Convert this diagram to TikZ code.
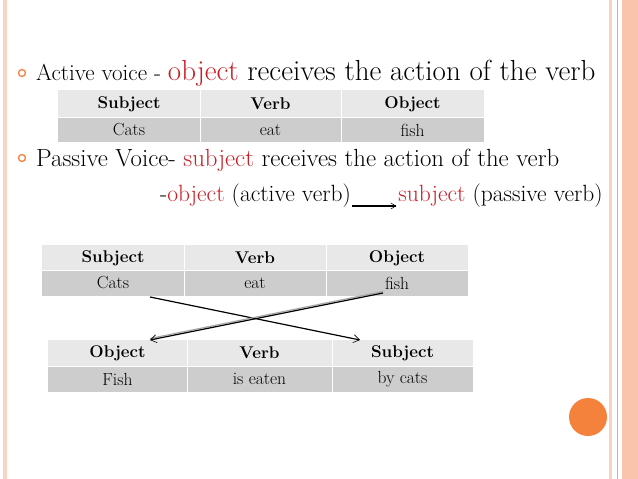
\documentclass[tikz,border=0pt]{standalone}
\usetikzlibrary{arrows.meta}
\definecolor{hd}{RGB}{232,232,232}
\definecolor{rw}{RGB}{205,205,205}
\definecolor{red1}{RGB}{200,30,40}
\definecolor{salm}{RGB}{250,196,172}
\definecolor{salml}{RGB}{250,210,195}
\definecolor{org}{RGB}{245,130,60}
\tikzset{
  hfont/.style={font=\fontsize{17}{18}\selectfont\bfseries},
  rfont/.style={font=\fontsize{17.5}{18}\selectfont},
  bul/.style={draw=org,line width=1.3pt,circle,inner sep=0pt,minimum size=7pt},
  txt/.style={anchor=base west,inner sep=0pt},
  conn/.style={line width=1.2pt,-{Straight Barb[length=6pt,width=8pt,line width=0.6pt]}}
}
\begin{document}
\begin{tikzpicture}[x=1pt,y=-1pt]
\useasboundingbox (0,0) rectangle (638,479);
\fill[white] (0,0) rectangle (638,479);
% borders
\fill[salml] (3,0) rectangle (7,479);
\fill[salml] (609,0) rectangle (612,479);
\fill[salm!80!red] (616.5,0) rectangle (617.5,479);
\fill[salm] (622,0) rectangle (638,479);
\node[circle,fill=org,minimum size=38pt,inner sep=0pt] (dot) at (588,417) {};
% bullets
\node[bul] (b1) at (22,73) {};
\node[bul] (b2) at (22,158) {};
\node[txt] (t1) at (36,80) {\fontsize{23}{24}\selectfont Active voice - \fontsize{29}{30}\selectfont\textcolor{red1}{object} receives the action of the verb};
\node[txt] (t2) at (36,166) {\fontsize{24.8}{26}\selectfont Passive Voice- \textcolor{red1}{subject} receives the action of the verb};
\node[txt] (t3) at (160,201) {\fontsize{23.5}{24}\selectfont -\textcolor{red1}{object} (active verb)};
\node[txt,anchor=base east] (t4) at (603,201) {\fontsize{23.5}{24}\selectfont \textcolor{red1}{subject} (passive verb)};
\draw[line width=1.2pt,-{Straight Barb[length=5pt,width=6pt,line width=0.5pt]}] ([xshift=1pt,yshift=-5pt]t3.base east) -- ([xshift=-2pt,yshift=-5pt]t4.base west);
% table 1
\foreach \xa/\xb/\h/\c [count=\i] in {58/200/Subject/Cats,200/341/Verb/eat,341/484/Object/fish}{
  \fill[hd] (\xa,90) rectangle (\xb,117);
  \fill[rw] (\xa,117) rectangle (\xb,142);
  \node[hfont] (ta\i) at ({(\xa+\xb)/2},104) {\h};
  \node[rfont] (tb\i) at ({(\xa+\xb)/2},130) {\c};
}
\draw[white,line width=0.6pt] (200,90) -- (200,142) (341,90) -- (341,142) (58,117) -- (484,117);
% table 2
\foreach \xa/\xb/\h/\c [count=\i] in {42/184/Subject/Cats,184/326/Verb/eat,326/468/Object/fish}{
  \fill[hd] (\xa,245) rectangle (\xb,270);
  \fill[rw] (\xa,270) rectangle (\xb,296);
  \node[hfont] (ua\i) at ({(\xa+\xb)/2},258) {\h};
  \node[rfont] (ub\i) at ({(\xa+\xb)/2},283) {\c};
}
\draw[white,line width=0.6pt] (184,245) -- (184,296) (326,245) -- (326,296) (42,270) -- (468,270);
% table 3
\foreach \xa/\xb/\h/\c [count=\i] in {48/187/Object/Fish,187/332/Verb/is eaten,332/473/Subject/by cats}{
  \fill[hd] (\xa,340) rectangle (\xb,366);
  \fill[rw] (\xa,366) rectangle (\xb,392);
  \node[hfont] (va\i) at ({(\xa+\xb)/2},353) {\h};
  \node[rfont] (vb\i) at ({(\xa+\xb)/2},379) {\c};
}
\draw[white,line width=0.6pt] (187,340) -- (187,392) (332,340) -- (332,392) (48,366) -- (473,366);
% connectors
\coordinate (c1) at (150,297);
\coordinate (c2) at (360,340);
\coordinate (d1) at (383,293);
\coordinate (d2) at (150,340);
\draw[conn] (c1) -- (c2);
\draw[gray!70,line width=1.2pt] ([yshift=1.5pt]d1) -- ([yshift=1.5pt]d2);
\draw[conn] (d1) -- (d2);
\end{tikzpicture}
\end{document}
